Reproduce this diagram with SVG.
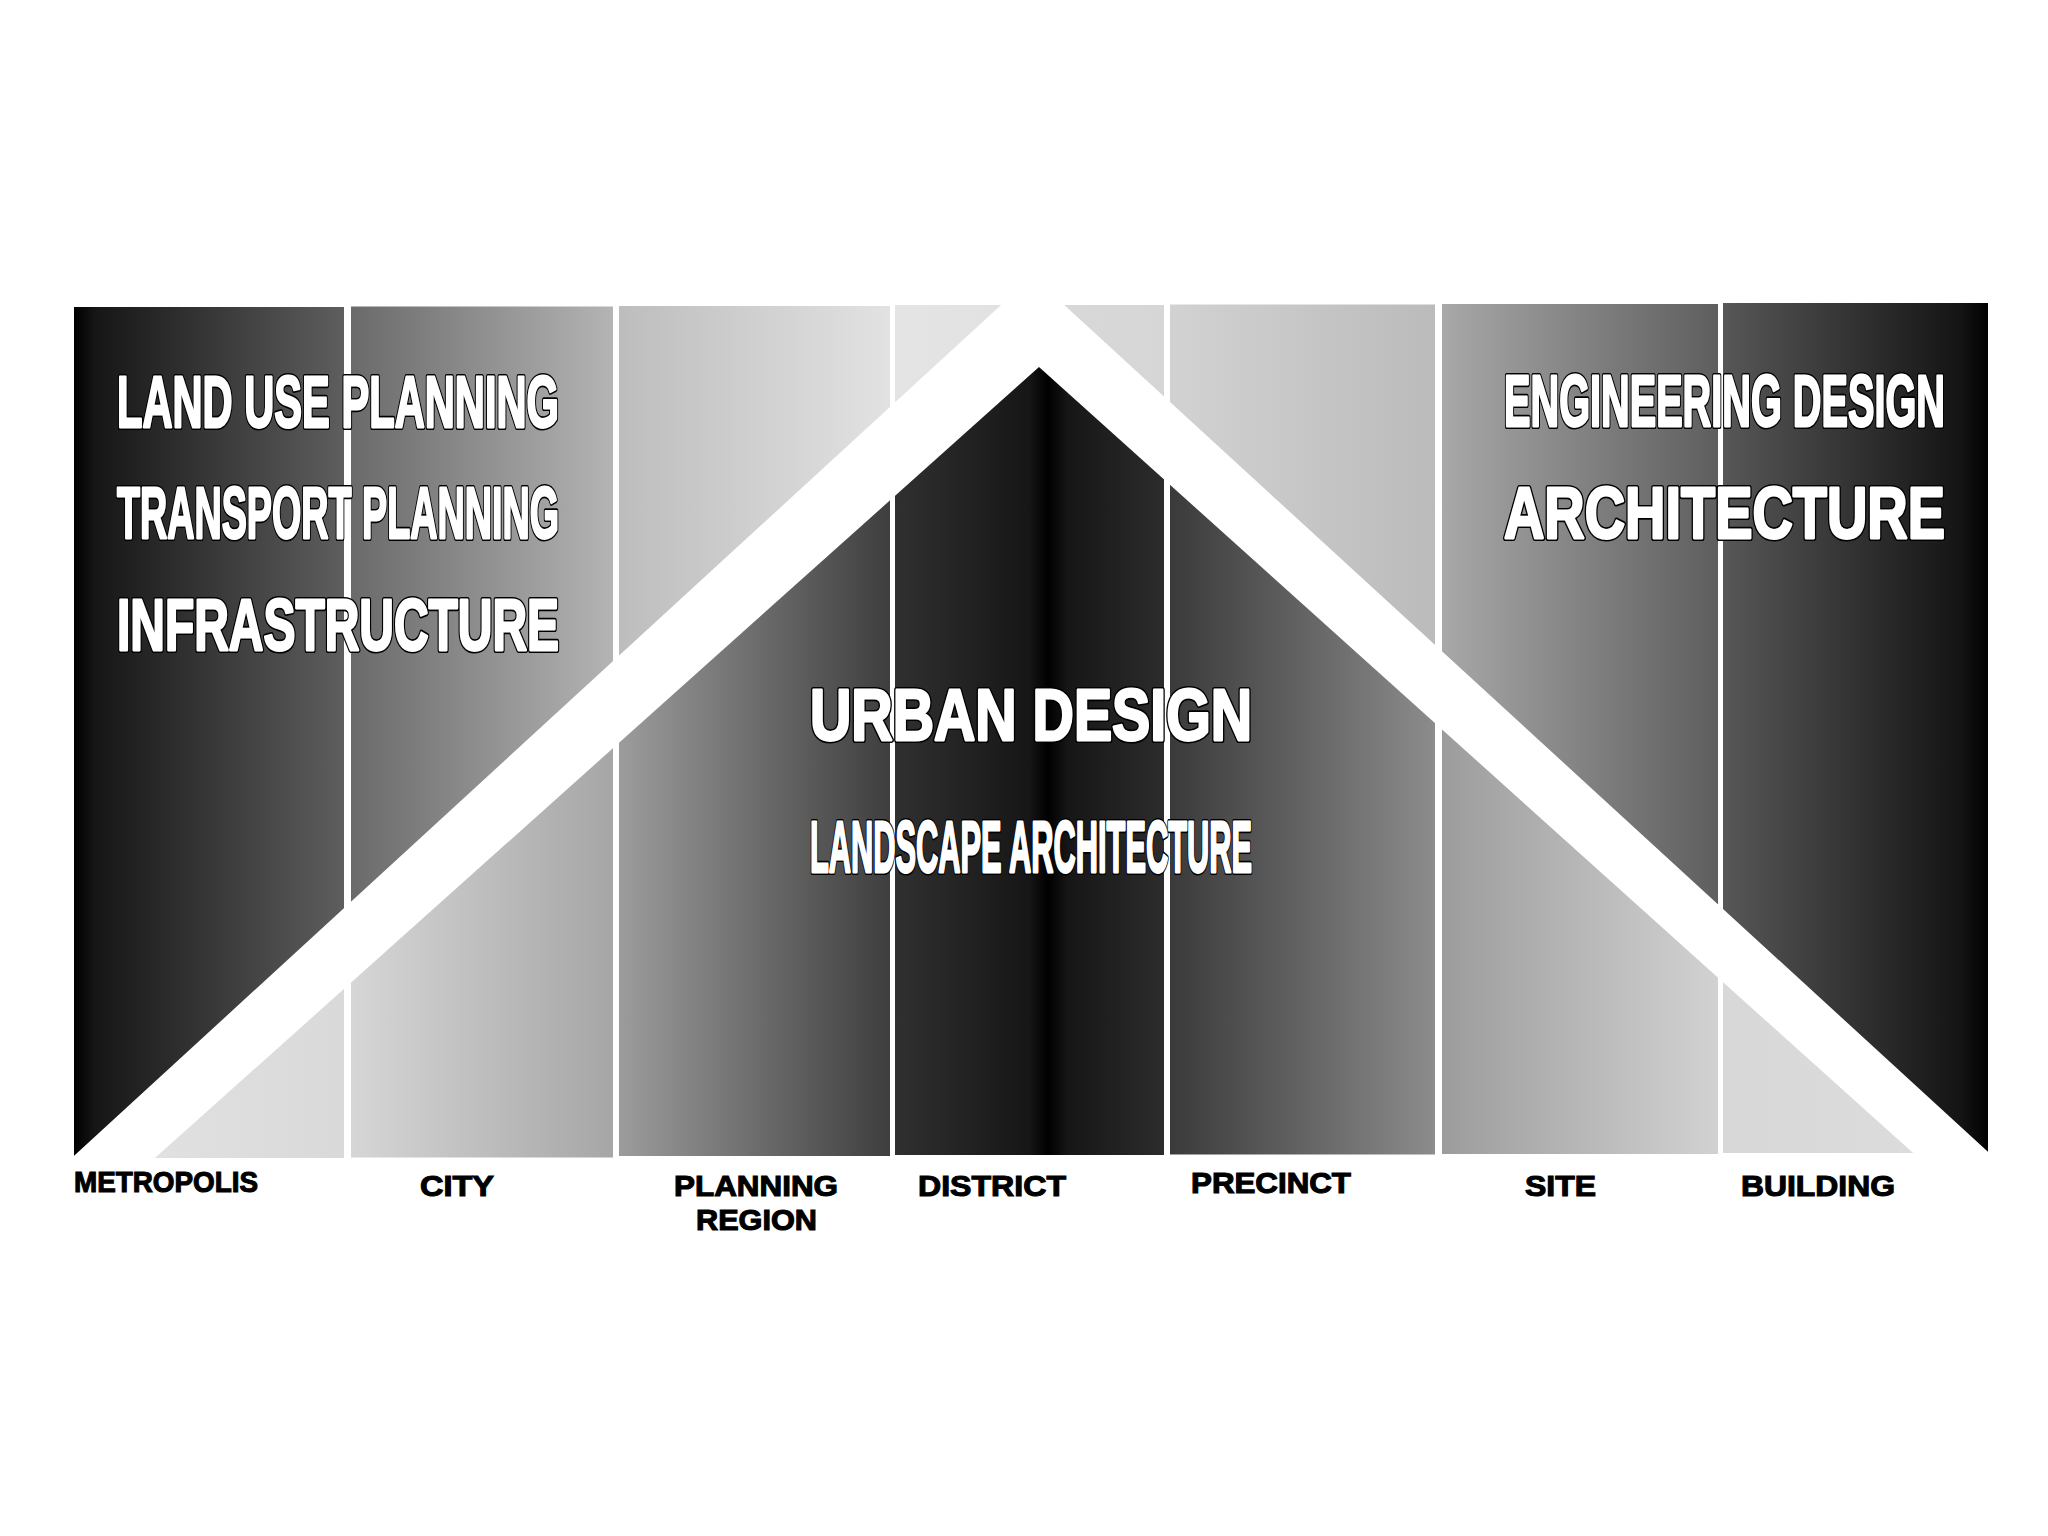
<svg xmlns="http://www.w3.org/2000/svg" xmlns:xlink="http://www.w3.org/1999/xlink" width="2048" height="1536" viewBox="0 0 2048 1536">
<style>
.big{font-family:"Liberation Sans",Arial,sans-serif;font-weight:bold;font-size:72px;}
.outline{fill:#000;stroke:#000;stroke-width:6.2;stroke-linejoin:round;}
.face{fill:#fff;stroke:#fff;stroke-width:2.8;stroke-linejoin:round;}
.lbl{font-family:"Liberation Sans",Arial,sans-serif;font-weight:bold;font-size:29px;fill:#000;stroke:#000;stroke-width:1.1;}
</style>
<defs>
<clipPath id="clipOuter">
<polygon points="-83,1300 1115.5,200 -200,200 -200,1300"/>
<polygon points="949.6,200 2149.7,1300 2300,1300 2300,200"/>
</clipPath>
<clipPath id="clipInner">
<polygon points="1039,367 2076.5,1300 -3.7,1300"/>
</clipPath>
<linearGradient id="o1" gradientUnits="userSpaceOnUse" x1="74" y1="0" x2="344" y2="0"><stop offset="0" stop-color="#000"/><stop offset="0.08" stop-color="#161616"/><stop offset="1" stop-color="#5e5e5e"/></linearGradient>
<linearGradient id="o2" gradientUnits="userSpaceOnUse" x1="351" y1="0" x2="613" y2="0"><stop offset="0" stop-color="#6a6a6a"/><stop offset="1" stop-color="#b4b4b4"/></linearGradient>
<linearGradient id="o3" gradientUnits="userSpaceOnUse" x1="619" y1="0" x2="890" y2="0"><stop offset="0" stop-color="#bdbdbd"/><stop offset="1" stop-color="#e2e2e2"/></linearGradient>
<linearGradient id="o4" gradientUnits="userSpaceOnUse" x1="895" y1="0" x2="1164" y2="0"><stop offset="0" stop-color="#e4e4e4"/><stop offset="0.4" stop-color="#e2e2e2"/><stop offset="0.6" stop-color="#d8d8d8"/><stop offset="1" stop-color="#d6d6d6"/></linearGradient>
<linearGradient id="o5" gradientUnits="userSpaceOnUse" x1="1170" y1="0" x2="1435" y2="0"><stop offset="0" stop-color="#d2d2d2"/><stop offset="1" stop-color="#bbbbbb"/></linearGradient>
<linearGradient id="o6" gradientUnits="userSpaceOnUse" x1="1442" y1="0" x2="1718" y2="0"><stop offset="0" stop-color="#a8a8a8"/><stop offset="1" stop-color="#5e5e5e"/></linearGradient>
<linearGradient id="o7" gradientUnits="userSpaceOnUse" x1="1723" y1="0" x2="1988" y2="0"><stop offset="0" stop-color="#575757"/><stop offset="0.9" stop-color="#141414"/><stop offset="1" stop-color="#000"/></linearGradient>
<linearGradient id="i1" gradientUnits="userSpaceOnUse" x1="74" y1="0" x2="344" y2="0"><stop offset="0" stop-color="#e4e4e4"/><stop offset="1" stop-color="#d9d9d9"/></linearGradient>
<linearGradient id="i2" gradientUnits="userSpaceOnUse" x1="351" y1="0" x2="613" y2="0"><stop offset="0" stop-color="#d6d6d6"/><stop offset="1" stop-color="#a6a6a6"/></linearGradient>
<linearGradient id="i3" gradientUnits="userSpaceOnUse" x1="619" y1="0" x2="890" y2="0"><stop offset="0" stop-color="#9c9c9c"/><stop offset="1" stop-color="#3e3e3e"/></linearGradient>
<linearGradient id="i4" gradientUnits="userSpaceOnUse" x1="895" y1="0" x2="1164" y2="0"><stop offset="0" stop-color="#303030"/><stop offset="0.5" stop-color="#161616"/><stop offset="0.57" stop-color="#000"/><stop offset="0.64" stop-color="#161616"/><stop offset="1" stop-color="#2c2c2c"/></linearGradient>
<linearGradient id="i5" gradientUnits="userSpaceOnUse" x1="1170" y1="0" x2="1435" y2="0"><stop offset="0" stop-color="#3a3a3a"/><stop offset="1" stop-color="#8c8c8c"/></linearGradient>
<linearGradient id="i6" gradientUnits="userSpaceOnUse" x1="1442" y1="0" x2="1718" y2="0"><stop offset="0" stop-color="#9c9c9c"/><stop offset="1" stop-color="#d2d2d2"/></linearGradient>
<linearGradient id="i7" gradientUnits="userSpaceOnUse" x1="1723" y1="0" x2="1988" y2="0"><stop offset="0" stop-color="#d8d8d8"/><stop offset="1" stop-color="#dddddd"/></linearGradient>
</defs>
<rect x="0" y="0" width="2048" height="1536" fill="#fff"/>
<g id="outer-fields" clip-path="url(#clipOuter)">
<rect x="74" y="307" width="270" height="851" fill="url(#o1)"/>
<rect x="351" y="306.5" width="262" height="851" fill="url(#o2)"/>
<rect x="619" y="306" width="271" height="850" fill="url(#o3)"/>
<rect x="895" y="305" width="269" height="850" fill="url(#o4)"/>
<rect x="1170" y="304.5" width="265" height="850" fill="url(#o5)"/>
<rect x="1442" y="304" width="276" height="850" fill="url(#o6)"/>
<rect x="1723" y="303" width="265" height="850" fill="url(#o7)"/>
</g>
<g id="inner-fields" clip-path="url(#clipInner)">
<rect x="74" y="307" width="270" height="851" fill="url(#i1)"/>
<rect x="351" y="306.5" width="262" height="851" fill="url(#i2)"/>
<rect x="619" y="306" width="271" height="850" fill="url(#i3)"/>
<rect x="895" y="305" width="269" height="850" fill="url(#i4)"/>
<rect x="1170" y="304.5" width="265" height="850" fill="url(#i5)"/>
<rect x="1442" y="304" width="276" height="850" fill="url(#i6)"/>
<rect x="1723" y="303" width="265" height="850" fill="url(#i7)"/>
</g>
<g id="disciplines">
<g class="outline">
<use href="#t1" xlink:href="#t1"/>
<use href="#t2" xlink:href="#t2"/>
<use href="#t3" xlink:href="#t3"/>
<use href="#t4" xlink:href="#t4"/>
<use href="#t5" xlink:href="#t5"/>
<use href="#t6" xlink:href="#t6"/>
<use href="#t7" xlink:href="#t7"/>
</g>
<g class="face">
<text id="t1" class="big" x="117" y="427" textLength="442" lengthAdjust="spacingAndGlyphs">LAND USE PLANNING</text>
<text id="t2" class="big" x="117" y="538" textLength="442" lengthAdjust="spacingAndGlyphs">TRANSPORT PLANNING</text>
<text id="t3" class="big" x="117" y="650" textLength="442" lengthAdjust="spacingAndGlyphs">INFRASTRUCTURE</text>
<text id="t4" class="big" x="810" y="740" textLength="442" lengthAdjust="spacingAndGlyphs">URBAN DESIGN</text>
<text id="t5" class="big" x="810" y="872" textLength="442" lengthAdjust="spacingAndGlyphs">LANDSCAPE ARCHITECTURE</text>
<text id="t6" class="big" x="1504" y="426" textLength="441" lengthAdjust="spacingAndGlyphs">ENGINEERING DESIGN</text>
<text id="t7" class="big" x="1504" y="538" textLength="441" lengthAdjust="spacingAndGlyphs">ARCHITECTURE</text>
</g>
</g>
<g id="scales">
<text class="lbl" x="74" y="1192" font-size="25" textLength="184" lengthAdjust="spacingAndGlyphs">METROPOLIS</text>
<text class="lbl" x="420" y="1196" textLength="74" lengthAdjust="spacingAndGlyphs">CITY</text>
<text class="lbl" x="674" y="1196" textLength="164" lengthAdjust="spacingAndGlyphs">PLANNING</text>
<text class="lbl" x="696" y="1230" textLength="121" lengthAdjust="spacingAndGlyphs">REGION</text>
<text class="lbl" x="918" y="1196" textLength="148" lengthAdjust="spacingAndGlyphs">DISTRICT</text>
<text class="lbl" x="1191" y="1193" textLength="160" lengthAdjust="spacingAndGlyphs">PRECINCT</text>
<text class="lbl" x="1525" y="1196" textLength="71" lengthAdjust="spacingAndGlyphs">SITE</text>
<text class="lbl" x="1741" y="1196" textLength="154" lengthAdjust="spacingAndGlyphs">BUILDING</text>
</g>
</svg>
